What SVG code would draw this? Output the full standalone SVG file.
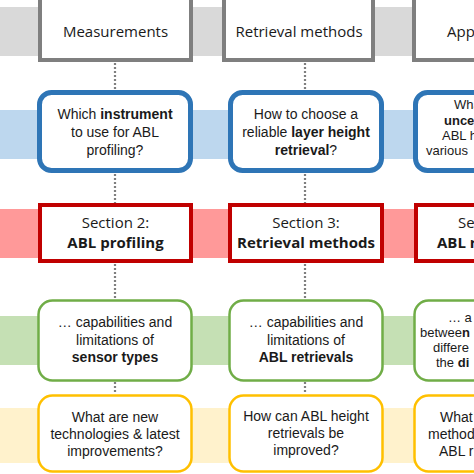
<svg xmlns="http://www.w3.org/2000/svg" width="474" height="474" viewBox="0 0 474 474">
<style>
.hdr{fill:#fff;stroke:#7f7f7f;stroke-width:4}
.q{fill:#fff;stroke:#2e75b6;stroke-width:5}
.sec{fill:#fff;stroke:#c00000;stroke-width:4}
.cap{fill:#fff;stroke:#70ad47;stroke-width:2.5}
.fut{fill:#fff;stroke:#ffc000;stroke-width:2.5}
.c{font-family:"Open Sans","Liberation Sans",sans-serif;font-size:15px;fill:#1a1a1a;text-anchor:middle}
.a{font-family:"Liberation Sans",Arial,sans-serif;font-size:14px;fill:#1a1a1a;text-anchor:middle}
.s{text-anchor:start}
.sm{font-size:13px}
.b{font-weight:bold}
.dot{stroke:#7f7f7f;stroke-width:2.2;stroke-dasharray:2 2;fill:none}
</style>
<rect width="474" height="474" fill="#fff"/>
<g id="bands">
<rect x="0" y="7" width="474" height="49" fill="#d9d9d9"/>
<rect x="0" y="110" width="474" height="49" fill="#bdd7ee"/>
<rect x="0" y="209" width="474" height="49" fill="#ff9999"/>
<rect x="0" y="316" width="474" height="49" fill="#c5e0b4"/>
<rect x="0" y="408" width="474" height="55" fill="#fff2cc"/>
</g>
<g id="connectors">
<line class="dot" x1="115" y1="63" x2="115" y2="90"/>
<line class="dot" x1="115" y1="174" x2="115" y2="203"/>
<line class="dot" x1="115" y1="264" x2="115" y2="299"/>
<line class="dot" x1="115" y1="382" x2="115" y2="394"/>
<line class="dot" x1="305" y1="63" x2="305" y2="90"/>
<line class="dot" x1="305" y1="174" x2="305" y2="203"/>
<line class="dot" x1="305" y1="264" x2="305" y2="299"/>
<line class="dot" x1="305" y1="382" x2="305" y2="394"/>
</g>
<g id="hdr1"><rect class="hdr" x="40" y="-10" width="151" height="70"/><text class="c" x="115.5" y="37">Measurements</text></g>
<g id="hdr2"><rect class="hdr" x="224" y="-10" width="149" height="70"/><text class="c" x="299" y="37">Retrieval methods</text></g>
<g id="hdr3"><rect class="hdr" x="414" y="-10" width="151" height="70"/><text class="c s" x="447" y="37">Applications</text></g>

<g id="q1"><rect class="q" x="39.5" y="92.5" width="151" height="78" rx="12"/>
<text class="a" x="115" y="119">Which <tspan class="b">instrument</tspan></text>
<text class="a" x="115" y="137">to use for ABL</text>
<text class="a" x="115" y="155">profiling?</text></g>
<g id="q2"><rect class="q" x="230.5" y="92.5" width="151" height="78" rx="12"/>
<text class="a" x="306" y="119">How to choose a</text>
<text class="a" x="306" y="137">reliable <tspan class="b">layer height</tspan></text>
<text class="a" x="306" y="155"><tspan class="b">retrieval</tspan>?</text></g>
<g id="q3"><rect class="q" x="415.5" y="92.5" width="151" height="78" rx="12"/>
<text class="a s sm" x="454" y="109">What</text>
<text class="a s sm b" x="444" y="125">uncertainties</text>
<text class="a s sm" x="442" y="140">ABL  h</text>
<text class="a s sm" x="426" y="155">various</text></g>

<g id="sec2"><rect class="sec" x="40" y="205" width="151" height="56"/>
<text class="c" x="115.5" y="228">Section 2:</text>
<text class="c b" x="115.5" y="248">ABL profiling</text></g>
<g id="sec3"><rect class="sec" x="230" y="205" width="152" height="56"/>
<text class="c" x="306" y="228">Section 3:</text>
<text class="c b" x="306" y="248">Retrieval methods</text></g>
<g id="sec4"><rect class="sec" x="416" y="205" width="152" height="56"/>
<text class="c s" x="458" y="228">Section</text>
<text class="c s b" x="437" y="248">ABL r</text></g>

<g id="cap1"><rect class="cap" x="38.5" y="300.5" width="153" height="80" rx="14"/>
<text class="a" x="115" y="327">… capabilities and</text>
<text class="a" x="115" y="344.5">limitations of</text>
<text class="a b" x="115" y="362">sensor types</text></g>
<g id="cap2"><rect class="cap" x="229.5" y="300.5" width="153" height="80" rx="14"/>
<text class="a" x="306" y="327">… capabilities and</text>
<text class="a" x="306" y="344.5">limitations of</text>
<text class="a b" x="306" y="362">ABL retrievals</text></g>
<g id="cap3"><rect class="cap" x="414.5" y="300.5" width="153" height="80" rx="14"/>
<text class="a s sm" x="448" y="322">… a</text>
<text class="a s sm" x="420" y="337">betwee<tspan class="b">n</tspan></text>
<text class="a s sm" x="433" y="352">differe</text>
<text class="a s sm" x="436" y="367">the <tspan class="b">di</tspan></text></g>

<g id="fut1"><rect class="fut" x="38.5" y="395.5" width="153" height="76" rx="14"/>
<text class="a" x="115" y="422">What are new</text>
<text class="a" x="115" y="439">technologies &amp; latest</text>
<text class="a" x="115" y="456">improvements?</text></g>
<g id="fut2"><rect class="fut" x="229.5" y="395.5" width="153" height="76" rx="14"/>
<text class="a" x="306" y="421">How can ABL height</text>
<text class="a" x="306" y="438">retrievals be</text>
<text class="a" x="306" y="455">improved?</text></g>
<g id="fut3"><rect class="fut" x="414.5" y="395.5" width="153" height="76" rx="14"/>
<text class="a s" x="440" y="422">What i</text>
<text class="a s" x="428" y="439">method</text>
<text class="a s" x="439" y="456">ABL r</text></g>
</svg>
